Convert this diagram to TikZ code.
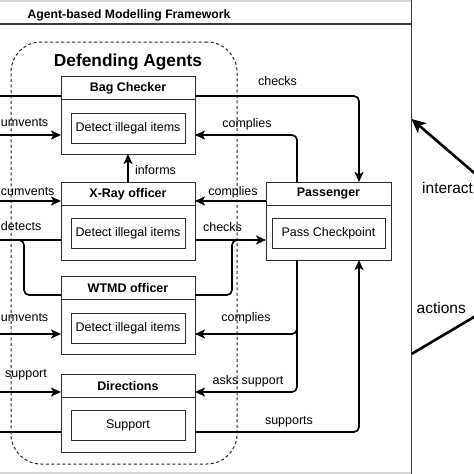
\documentclass[tikz,border=0pt]{standalone}
\usepackage{fontspec}
\setmainfont{Liberation Sans}
\usetikzlibrary{arrows.meta,calc}
\definecolor{boxgray}{HTML}{2E2E2E}
\definecolor{bandgray}{HTML}{D6D6D6}
\definecolor{framegray}{HTML}{3A3A3A}
\tikzset{
 agentbox/.style={draw=boxgray, line width=0.9pt, minimum width=134pt, minimum height=78pt, inner sep=0pt, outer sep=0pt},
 passbox/.style={agentbox, minimum width=125pt},
 hdr/.style={font=\fontsize{12.5}{14}\selectfont\bfseries, inner sep=0pt},
 innerbox/.style={draw=boxgray, line width=0.9pt, minimum width=114pt, minimum height=30pt, inner sep=0pt, outer sep=0pt, font=\fontsize{12.5}{14}\selectfont},
 hline/.style={draw=boxgray, line width=0.9pt},
 lbl/.style={font=\fontsize{12.5}{14}\selectfont, inner sep=0pt},
 biglbl/.style={font=\fontsize{15.5}{18}\selectfont, inner sep=0pt},
 conn/.style={line width=1.6pt, black, rounded corners=5pt},
 arr/.style={-{Stealth[length=10pt,width=9pt,inset=2.5pt]}},
 bigconn/.style={line width=2.6pt, black},
 bigarr/.style={-{Stealth[length=14pt,width=13pt,inset=3.5pt]}},
 frameline/.style={draw=framegray, line width=1.2pt},
 dashedbox/.style={draw=black!85, line width=1pt, dash pattern=on 3pt off 2.5pt, rounded corners=30pt, minimum width=226pt, minimum height=422pt, inner sep=0pt, outer sep=0pt}
}
\begin{document}
\begin{tikzpicture}[x=1pt,y=-1pt]
\useasboundingbox (0,0) rectangle (474,474);
\clip (0,0) rectangle (474,474);
\fill[white] (0,0) rectangle (474,474);

% framework
\node[frameline, minimum width=441.5pt, minimum height=534pt, inner sep=0pt, outer sep=0pt] (frame) at (190.75,237) {};
\fill[bandgray] (0,0) rectangle (411,2.3);
\fill[bandgray] (0,471.6) rectangle (411,474);
\coordinate (hl) at (0,24);
\draw[frameline] (frame.west |- hl) -- (frame.east |- hl);
\node[font=\fontsize{12.2}{14}\selectfont\bfseries, inner sep=0pt] (ttl) at (129,15) {Agent-based Modelling Framework};

% defending agents group
\node[dashedbox] (def) at (124,253) {};
\node[font=\fontsize{17.3}{20}\selectfont\bfseries, inner sep=0pt] (defT) at (128,62) {Defending Agents};

% agent boxes
\node[agentbox] (bag) at (128,115) {};
\node[agentbox] (xray) at (128,221) {};
\node[agentbox] (wtmd) at (128,315) {};
\node[agentbox] (dir) at (128,413) {};
\node[passbox] (pass) at (328.5,221) {};

\foreach \b/\t in {bag/Bag Checker, xray/X-Ray officer, wtmd/WTMD officer, dir/Directions, pass/Passenger}{
  \draw[hline] ($(\b.north west)+(0,23)$) -- ($(\b.north east)+(0,23)$);
  \node[hdr] (\b T) at ($(\b.north)+(0,12)$) {\t};
}
\node[innerbox] (bagI) at ($(bag.north)+(0,52)$) {Detect illegal items};
\node[innerbox] (xrayI) at ($(xray.north)+(0,51)$) {Detect illegal items};
\node[innerbox] (wtmdI) at ($(wtmd.north)+(0,52)$) {Detect illegal items};
\node[innerbox] (dirI) at ($(dir.north)+(0,51)$) {Support};
\node[innerbox, minimum width=113pt] (passI) at ($(pass.north)+(0,51)$) {Pass Checkpoint};

% helper coordinates
\coordinate (a1) at (0,96);
\coordinate (a2) at (0,135);
\coordinate (a3) at (0,201);
\coordinate (a4) at (0,240);
\coordinate (wy) at (0,295);
\coordinate (a5) at (0,334);
\coordinate (a6) at (0,392);
\coordinate (a7) at (0,432);
\coordinate (d1) at (24,240);
\coordinate (d2) at (232,240);
\coordinate (d3) at (250,240);
\coordinate (pTL) at ($(pass.north)+(-31.5,0)$);
\coordinate (pTR) at ($(pass.north)+(30.5,0)$);
\coordinate (pBL) at ($(pass.south)+(-31.5,0)$);
\coordinate (pBR) at ($(pass.south)+(30.5,0)$);

% connectors
\draw[conn] (a1) -- (a1 -| bag.west);
\draw[conn,arr] (a1 -| bag.east) -| (pTR);
\draw[conn,arr] (a2) -- (a2 -| bag.west);
\draw[conn,arr] (pTL) |- (a2 -| bag.east);
\draw[conn,arr] (xray.north) -- (bag.south);
\draw[conn,arr] (a3) -- (a3 -| xray.west);
\draw[conn,arr] (a3 -| pass.west) -- (a3 -| xray.east);
\draw[conn] (a4 -| xray.west) -- (a4);
\draw[conn] (wy -| wtmd.west) -| (d1) -- (a4);
\draw[conn,arr] (a4 -| xray.east) -- (a4 -| pass.west);
\draw[conn] (wy -| wtmd.east) -| (d2) -- (d3);
\draw[conn,arr] (a5) -- (a5 -| wtmd.west);
\draw[conn,arr] (pBL) |- (a5 -| wtmd.east);
\draw[conn,arr] (pBL) |- (a6 -| dir.east);
\draw[conn,arr] (a6) -- (a6 -| dir.west);
\draw[conn] (a7) -- (a7 -| dir.west);
\draw[conn,arr] (a7 -| dir.east) -| (pBR);

% labels
\node[lbl] (l1) at (277.5,81) {checks};
\node[lbl, anchor=west] (l2) at (0.8,123) {umvents};
\node[lbl] (l3) at (247,124) {complies};
\node[lbl] (l4) at (155.5,170.5) {informs};
\node[lbl, anchor=west] (l5) at (0.8,192) {cumvents};
\node[lbl] (l6) at (233,192) {complies};
\node[lbl, anchor=west] (l7) at (0.8,226) {detects};
\node[lbl] (l8) at (222.5,227) {checks};
\node[lbl, anchor=west] (l9) at (0.8,318) {umvents};
\node[lbl] (l10) at (246,318) {complies};
\node[lbl] (l11) at (26,375) {support};
\node[lbl] (l12) at (248,381) {asks support};
\node[lbl] (l13) at (289,422) {supports};

% outer interactions
\coordinate (r1) at (490,186.5);
\coordinate (r1t) at (0,119);
\coordinate (r2) at (490,307.5);
\coordinate (r2t) at (0,354);
\draw[bigconn,bigarr] (r1) -- (frame.east |- r1t);
\draw[bigconn] (r2) -- (frame.east |- r2t);
\node[biglbl, anchor=west] (l14) at (422,188) {interact};
\node[biglbl, anchor=west] (l15) at (416.5,308) {actions};
\end{tikzpicture}
\end{document}
